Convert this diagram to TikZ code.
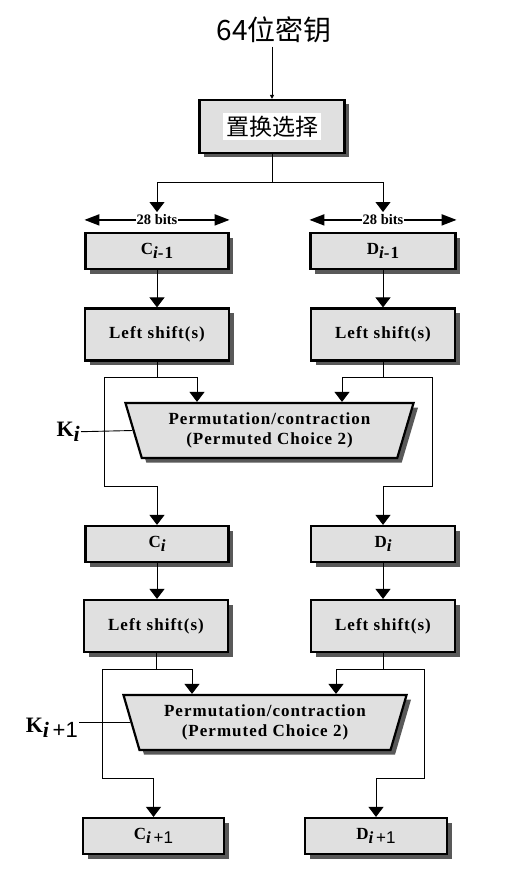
\documentclass[tikz,border=0pt]{standalone}
\usepackage{fontspec}
\setmainfont{Liberation Serif}
\setsansfont{Liberation Sans}
\newfontfamily\cjk{Noto Sans CJK SC}
\newfontfamily\wide[LetterSpace=6]{Liberation Serif}
\usetikzlibrary{arrows.meta,shapes.geometric,shadows}
\newcommand{\subsc}[2]{\raisebox{-0.45ex}{{\itshape #1}#2}}

\begin{document}
\begin{tikzpicture}[x=1pt, y=-1pt,
	box/.style={draw, line width=2.2pt, fill=black!12, minimum height=36pt, inner sep=0pt,
		font=\wide\fontsize{17}{20}\selectfont\bfseries,
		drop shadow={shadow xshift=4.5pt, shadow yshift=-4.5pt, fill=black!65, opacity=1}},
	shiftbox/.style={box, minimum width=144pt, minimum height=52pt},
	pcbox/.style={box, trapezium, trapezium angle=70, shape border rotate=180, trapezium stretches=true,
		minimum height=55pt, align=center},
	link/.style={line width=0.9pt},
	arr/.style={link, -{Triangle[width=15pt,length=10pt]}},
	bits/.style={line width=1.8pt, {Triangle[width=11pt,length=15pt]}-{Triangle[width=11pt,length=15pt]}},
	bitlab/.style={fill=white, inner sep=1pt, font=\fontsize{14.5}{16}\selectfont\bfseries},
	klab/.style={anchor=east, inner sep=1pt, font=\fontsize{22}{24}\selectfont\bfseries}]
	\useasboundingbox (0,0) rectangle (531,869);
	% key and first permutation
	\node[font=\cjk\fontsize{28}{30}\selectfont] (key) at (274,30) {64位密钥};
	\node[box, minimum width=145pt, minimum height=53pt] (pcone) at (272,126.5) {\setlength{\fboxsep}{3pt}\colorbox{white}{\cjk\mdseries\fontsize{23}{26}\selectfont 置换选择}};
	\draw[link, -{Triangle[width=4pt,length=4pt]}] (key.south -| pcone) -- (pcone);
	\coordinate (fork) at (272,182);
	\coordinate (ca) at (157,212);
	\coordinate (da) at (383,212);
	\draw[link] (pcone) -- (fork);
	\draw[arr] (fork) -| (ca);
	\draw[arr] (fork) -| (da);
	% round i
	\node[box, minimum width=143pt] (C0) at (157,251) {C\subsc{i}{-1}};
	\node[box, minimum width=145pt] (D0) at (383,251) {D\subsc{i}{-1}};
	\draw[bits] ([yshift=12pt]C0.north west) -- ([yshift=12pt]C0.north east) node[midway, bitlab]{28 bits};
	\draw[bits] ([yshift=12pt]D0.north west) -- ([yshift=12pt]D0.north east) node[midway, bitlab]{28 bits};
	\node[shiftbox] (Lsa) at (157,334.5) {Left shift(s)};
	\node[shiftbox] (Rsa) at (383,334.5) {Left shift(s)};
	\draw[arr] (C0) -- (Lsa);
	\draw[arr] (D0) -- (Rsa);
	\node[pcbox, minimum width=289pt] (Pa) at (269.5,430.5) {Permutation/contraction\\(Permuted Choice 2)};
	\node[klab] (Ka) at (81,432) {K\subsc{i}{}};
	\draw[link] (Ka) -- (Pa.west);
	\coordinate (lba) at (104,377);
	\coordinate (lma) at (104,486);
	\coordinate (lia) at (197,377);
	\coordinate (rba) at (432,377);
	\coordinate (rma) at (432,486);
	\coordinate (ria) at (342,377);
	\draw[link] (Lsa) -- (Lsa |- lba);
	\draw[link] (Rsa) -- (Rsa |- rba);
	\draw[arr] (lba) -- (lia) -- (lia |- Pa.north);
	\draw[arr] (rba) -- (ria) -- (ria |- Pa.north);
	\node[box, minimum width=143pt] (C1) at (157,544) {C\subsc{i}{}};
	\node[box, minimum width=144pt] (D1) at (383,544) {D\subsc{i}{}};
	\draw[arr] (lba) -- (lma) -| (C1);
	\draw[arr] (rba) -- (rma) -| (D1);
	% round i+1
	\node[shiftbox] (Lsb) at (156,626) {Left shift(s)};
	\node[shiftbox] (Rsb) at (383,626) {Left shift(s)};
	\draw[arr] (C1) -- (C1 |- Lsb.north);
	\draw[arr] (D1) -- (D1 |- Rsb.north);
	\node[pcbox, minimum width=284pt] (Pb) at (265,722.5) {Permutation/contraction\\(Permuted Choice 2)};
	\node[klab] (Kb) at (79,728) {K\subsc{i}{\,{\sffamily\mdseries +1}}};
	\draw[link] (Kb.east |- Pb.west) -- (Pb.west);
	\coordinate (lbb) at (102,669);
	\coordinate (lmb) at (102,778);
	\coordinate (lib) at (192,669);
	\coordinate (rbb) at (424,669);
	\coordinate (rmb) at (424,778);
	\coordinate (rib) at (336,669);
	\draw[link] (Lsb) -- (Lsb |- lbb);
	\draw[link] (Rsb) -- (Rsb |- rbb);
	\draw[arr] (lbb) -- (lib) -- (lib |- Pb.north);
	\draw[arr] (rbb) -- (rib) -- (rib |- Pb.north);
	\node[box, minimum width=141pt] (C2) at (153.5,836) {C\subsc{i}{\,{\sffamily\mdseries +1}}};
	\node[box, minimum width=142pt] (D2) at (376,836) {D\subsc{i}{\,{\sffamily\mdseries +1}}};
	\draw[arr] (lbb) -- (lmb) -| (C2);
	\draw[arr] (rbb) -- (rmb) -| (D2);
\end{tikzpicture}
\end{document}
